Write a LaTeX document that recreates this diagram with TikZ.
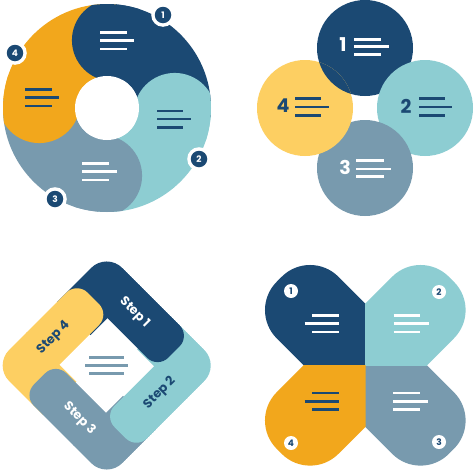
\documentclass[tikz,border=0pt]{standalone}
\usepackage{fontspec}
\setmainfont{Poppins}
\definecolor{navy}{RGB}{27,73,115}
\definecolor{tealc}{RGB}{141,205,210}
\definecolor{slate}{RGB}{120,154,174}
\definecolor{orangec}{RGB}{242,167,28}
\definecolor{yellowc}{RGB}{253,207,98}
\tikzset{
  txtline/.style={line width=2.8pt},
  ringbadge/.style={circle, fill=navy, minimum size=16.5pt, inner sep=0pt, text=white, font=\bfseries\fontsize{9}{9}\selectfont},
  petalbadge/.style={circle, fill=white, minimum size=14pt, inner sep=0pt, text=navy, font=\bfseries\fontsize{9}{9}\selectfont},
  bignum/.style={inner sep=0pt, font=\bfseries\fontsize{19}{19}\selectfont},
  steplabel/.style={inner sep=0pt, transform shape, font=\bfseries\fontsize{12.6}{12.6}\selectfont},
}
\begin{document}
\begin{tikzpicture}[x=1pt,y=-1pt]
\useasboundingbox (0,0) rectangle (474,474);
\fill[white] (0,0) rectangle (474,474);

% ================= Panel 1: ring =================
\begin{scope}[shift={(107,108)}, yscale=-1]
  \fill[navy]    (85:104) arc[start angle=85, end angle=-5, radius=104] -- (-5:32) arc[start angle=-5, end angle=85, radius=32] -- cycle;
  \fill[tealc]   (-5:104) arc[start angle=-5, end angle=-95, radius=104] -- (-95:32) arc[start angle=-95, end angle=-5, radius=32] -- cycle;
  \fill[slate]   (-95:104) arc[start angle=-95, end angle=-185, radius=104] -- (-185:32) arc[start angle=-185, end angle=-95, radius=32] -- cycle;
  \fill[orangec] (175:104) arc[start angle=175, end angle=85, radius=104] -- (85:32) arc[start angle=85, end angle=175, radius=32] -- cycle;
  \begin{scope}
    \clip (0,0) circle[radius=104];
    \fill[navy]    (85:68) circle[radius=41];
    \fill[tealc]   (-5:68) circle[radius=41];
    \fill[slate]   (-95:68) circle[radius=41];
    \fill[orangec] (175:68) circle[radius=41];
  \end{scope}
  \fill[white] (0,0) circle[radius=32];
\end{scope}
% text lines in ring
\draw[txtline, white] (100,32.3) -- (126.7,32.3) (100,40.7) -- (134.3,40.7) (100,49) -- (126.7,49);
\draw[txtline, navy]  (157,111) -- (183,111) (157,119) -- (191,119) (157,127.3) -- (183,127.3);
\draw[txtline, white] (82,163.3) -- (109,163.3) (82,171.7) -- (117,171.7) (82,180) -- (109,180);
\draw[txtline, navy]  (25,89.3) -- (52,89.3) (25,97.7) -- (59,97.7) (25,106) -- (52,106);
% badges
\foreach \p in {(163,15),(199,159),(55,199),(15,53)} \fill[white] \p circle[radius=11.8];
\node[ringbadge] (rb1) at (163,15) {1};
\node[ringbadge] (rb2) at (199,159) {2};
\node[ringbadge] (rb3) at (55,199) {3};
\node[ringbadge] (rb4) at (15,53) {4};

% ================= Panel 2: four circles =================
\fill[navy]    (365,48) circle[radius=48];
\fill[tealc]   (425,108) circle[radius=48];
\fill[slate]   (365,168) circle[radius=48];
\fill[yellowc] (305,108) circle[radius=48];
\begin{scope}
  \clip (305,108) circle[radius=48];
  \fill[navy] (365,48) circle[radius=48];
\end{scope}
\node[bignum, text=white] (c1) at (343,45) {1};
\node[bignum, text=navy]  (c2) at (406,106) {2};
\node[bignum, text=white] (c3) at (345,167) {3};
\node[bignum, text=navy]  (c4) at (283,106) {4};
\draw[txtline, white] (354,39.3) -- (381,39.3) (354,46.7) -- (389,46.7) (354,54.3) -- (381,54.3);
\draw[txtline, navy]  (419,98.7) -- (445,98.7) (419,107) -- (452,107) (419,115.3) -- (445,115.3);
\draw[txtline, white] (356,160.7) -- (384,160.7) (356,169) -- (391,169) (356,176.7) -- (384,176.7);
\draw[txtline, navy]  (295,98.7) -- (321,98.7) (295,107) -- (329,107) (295,115.3) -- (321,115.3);

% ================= Panel 3: rounded diamond of steps =================
\begin{scope}[shift={(106.7,365.5)}, rotate=-45]
  % owned corners
  \begin{scope}\clip (-80,-80) rectangle (-33,-10); \fill[navy, rounded corners=22] (-80,-80) rectangle (80,80); \end{scope}
  \begin{scope}\clip (10,-80) rectangle (80,-33); \fill[tealc, rounded corners=22] (-80,-80) rectangle (80,80); \end{scope}
  \begin{scope}\clip (33,10) rectangle (80,80); \fill[slate, rounded corners=22] (-80,-80) rectangle (80,80); \end{scope}
  \begin{scope}\clip (-80,33) rectangle (-10,80); \fill[yellowc, rounded corners=22] (-80,-80) rectangle (80,80); \end{scope}
  % arms with rounded leading ends
  \begin{scope}\clip (-34,-80) rectangle (80,-34); \fill[navy, rounded corners=15] (-60,-80) rectangle (38,-34); \end{scope}
  \begin{scope}\clip (34,-34) rectangle (80,80); \fill[tealc, rounded corners=15] (34,-60) rectangle (80,38); \end{scope}
  \begin{scope}\clip (-80,34) rectangle (34,80); \fill[slate, rounded corners=15] (-38,34) rectangle (60,80); \end{scope}
  \begin{scope}\clip (-80,-80) rectangle (-34,34); \fill[yellowc, rounded corners=15] (-80,-38) rectangle (-34,60); \end{scope}
  \node[steplabel, text=white] (s1) at (-18,-57) {Step 1};
  \node[steplabel, text=navy, rotate=90] (s2) at (57,-18) {Step 2};
  \node[steplabel, text=white] (s3) at (18,57) {Step 3};
  \node[steplabel, text=navy, rotate=90] (s4) at (-57,18) {Step 4};
\end{scope}
\draw[txtline, slate] (89,357.3) -- (124,357.3) (85,365.3) -- (128,365.3) (89,373.5) -- (124,373.5);

% ================= Panel 4: X of petals =================
\begin{scope}
  \clip (250,250) rectangle (365.6,365.6);
  \fill[navy, shift={(365.3,365.3)}, rotate=-45, rounded corners=40] (-121.7,-43.6) rectangle (121.7,43.6);
\end{scope}
\begin{scope}
  \clip (365,365) rectangle (480,480);
  \fill[slate, shift={(365.3,365.3)}, rotate=-45, rounded corners=40] (-121.7,-43.6) rectangle (121.7,43.6);
\end{scope}
\begin{scope}
  \clip (365,250) rectangle (480,365.6);
  \fill[tealc, shift={(365.3,365.3)}, rotate=45, rounded corners=40] (-121.7,-43.6) rectangle (121.7,43.6);
\end{scope}
\begin{scope}
  \clip (250,365) rectangle (365.6,480);
  \fill[orangec, shift={(365.3,365.3)}, rotate=45, rounded corners=40] (-121.7,-43.6) rectangle (121.7,43.6);
\end{scope}
\draw[txtline, white] (312,315.3) -- (338.7,315.3) (304.7,323.7) -- (338.7,323.7) (312,332) -- (338.7,332);
\draw[txtline, white] (393.7,315.3) -- (420,315.3) (393.7,323.7) -- (428.7,323.7) (393.7,332) -- (420,332);
\draw[txtline, navy]  (312,393) -- (338.7,393) (304.7,401.3) -- (338.7,401.3) (312,409.7) -- (338.7,409.7);
\draw[txtline, white] (393,393) -- (419.7,393) (393,401.3) -- (427.7,401.3) (393,409.7) -- (419.7,409.7);
\node[petalbadge] (pb1) at (291,291) {1};
\node[petalbadge] (pb2) at (439,292) {2};
\node[petalbadge] (pb3) at (439,442) {3};
\node[petalbadge] (pb4) at (291,443) {4};
\end{tikzpicture}
\end{document}
